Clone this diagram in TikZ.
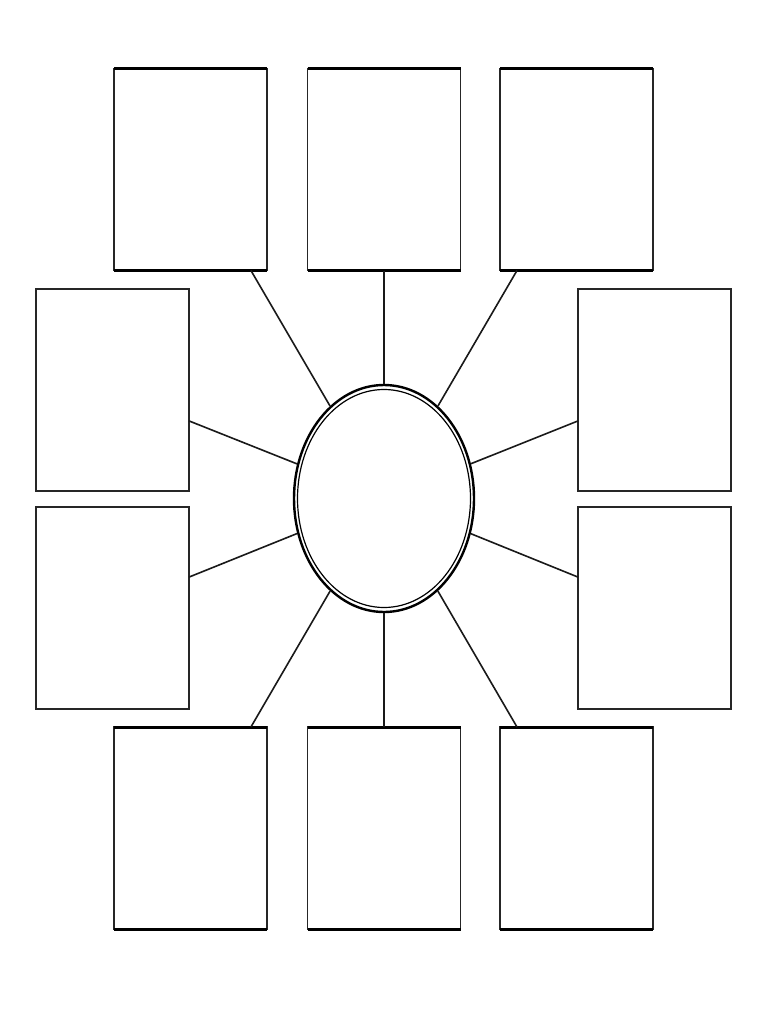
\documentclass[tikz,border=0pt]{standalone}
\usetikzlibrary{shapes.geometric,calc}
\begin{document}
\begin{tikzpicture}[x=1pt,y=-1pt,
  card/.style={draw=black!85,line width=1.4pt,minimum width=153pt,minimum height=202pt,inner sep=0pt,outer sep=0pt,fill=white},
  edgebar/.style={line width=3pt,black},
  spoke/.style={line width=1.6pt,black!90},
  hub/.style={ellipse,draw=black,line width=2.4pt,minimum width=180pt,minimum height=227pt,inner sep=0pt}]
\fill[white] (0,0) rectangle (768,1024);
\useasboundingbox (0,0) rectangle (768,1024);
% hub
\node[hub] (c) at (384,498.5) {};
\draw[line width=1.2pt] (c.center) ellipse [x radius=86.5, y radius=109];
% top row
\node[card] (t1) at (190.5,169.5) {};
\node[card] (t2) at (384,169.5) {};
\node[card] (t3) at (576.5,169.5) {};
% bottom row
\node[card] (d1) at (190.5,828) {};
\node[card] (d2) at (384,828) {};
\node[card] (d3) at (576.5,828) {};
% sides
\node[card] (l1) at (112.5,390) {};
\node[card] (l2) at (112.5,608) {};
\node[card] (r1) at (654.5,390) {};
\node[card] (r2) at (654.5,608) {};
% thick bars on top and bottom rows
\foreach \b in {t1,t2,t3,d1,d2,d3}{
  \draw[edgebar] (\b.north west) -- (\b.north east);
  \draw[edgebar] (\b.south west) -- (\b.south east);
}
% anchor points for spokes
\coordinate (pt1) at ($(t1.south west)!0.895!(t1.south east)$);
\coordinate (pt2) at (t2.south);
\coordinate (pt3) at ($(t3.south west)!0.111!(t3.south east)$);
\coordinate (pd1) at ($(d1.north west)!0.895!(d1.north east)$);
\coordinate (pd2) at (d2.north);
\coordinate (pd3) at ($(d3.north west)!0.111!(d3.north east)$);
\coordinate (pl1) at ($(l1.north east)!0.653!(l1.south east)$);
\coordinate (pl2) at ($(l2.north east)!0.347!(l2.south east)$);
\coordinate (pr1) at ($(r1.north west)!0.653!(r1.south west)$);
\coordinate (pr2) at ($(r2.north west)!0.347!(r2.south west)$);
\foreach \p in {pt1,pt2,pt3,pd1,pd2,pd3,pl1,pl2,pr1,pr2}{
  \draw[spoke] (\p) -- (c);
}
\end{tikzpicture}
\end{document}
